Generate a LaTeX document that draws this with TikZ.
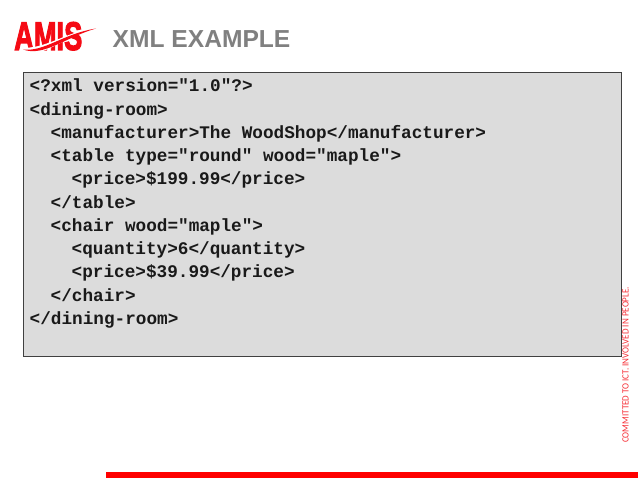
\documentclass[tikz,border=0pt]{standalone}
\usepackage{fontspec}
\setmainfont{Liberation Sans}
\newfontfamily\codefont{Liberation Mono}
\newfontfamily\sidefont{Carlito}
\newfontfamily\logofont[FakeBold=3]{Liberation Sans Bold}
\definecolor{amisred}{HTML}{F50A14}
\definecolor{boxgray}{HTML}{DCDCDC}
\definecolor{titlegray}{HTML}{808080}
\tikzset{
  codeline/.style={anchor=base west,inner sep=0pt,font=\codefont\bfseries\fontsize{17.7pt}{20pt}\selectfont,text=black!90},
}
\begin{document}
\begin{tikzpicture}[x=1pt,y=-1pt]
\useasboundingbox (0,0) rectangle (638,478);
\fill[white] (0,0) rectangle (638,478);
% logo
\node[anchor=base west,inner sep=0pt,text=amisred,font=\logofont\fontsize{29pt}{30pt}\selectfont] (logo) at (14,50) {\scalebox{0.94}[1.38]{AMIS}};
\fill[white] (21,54) .. controls (45,57) and (62,38) .. (97,27) .. controls (66,32) and (44,50) .. (21,47.5) -- cycle;
\fill[amisred] (23,49.5) .. controls (45,52) and (62,34) .. (96,28.5) .. controls (66,37) and (44,57) .. (23,49.5) -- cycle;
% title
\node[anchor=base west,inner sep=0pt,text=titlegray,font=\bfseries\fontsize{24.6pt}{26pt}\selectfont] (title) at (112.5,48) {XML EXAMPLE};
% code box
\node[draw=black!75,line width=1pt,fill=boxgray,minimum width=598.5pt,minimum height=283.5pt,anchor=north west,inner sep=0pt] (box) at (22.5,72.5) {};
\node[codeline] (l1) at (29.5,92) {<?xml version="1.0"?>};
\node[codeline] (l2) at (29.5,115.2) {<dining-room>};
\node[codeline] (l3) at (50.5,138.5) {<manufacturer>The WoodShop</manufacturer>};
\node[codeline] (l4) at (50.5,161.7) {<table type="round" wood="maple">};
\node[codeline] (l5) at (71.5,185) {<price>\$199.99</price>};
\node[codeline] (l6) at (50.5,208.2) {</table>};
\node[codeline] (l7) at (50.5,231.5) {<chair wood="maple">};
\node[codeline] (l8) at (71.5,254.7) {<quantity>6</quantity>};
\node[codeline] (l9) at (71.5,278) {<price>\$39.99</price>};
\node[codeline] (l10) at (50.5,301.2) {</chair>};
\node[codeline] (l11) at (29.5,324.5) {</dining-room>};
% side text
\node[anchor=base west,inner sep=0pt,rotate=90,text=amisred!85,font=\sidefont\fontsize{9.6pt}{11pt}\selectfont] (side) at (628.7,443) {\scalebox{0.94}[1]{COMMITTED TO ICT. INVOLVED IN PEOPLE.}};
% bottom bar
\fill[red] (106,472) rectangle (638,478);
\end{tikzpicture}
\end{document}
